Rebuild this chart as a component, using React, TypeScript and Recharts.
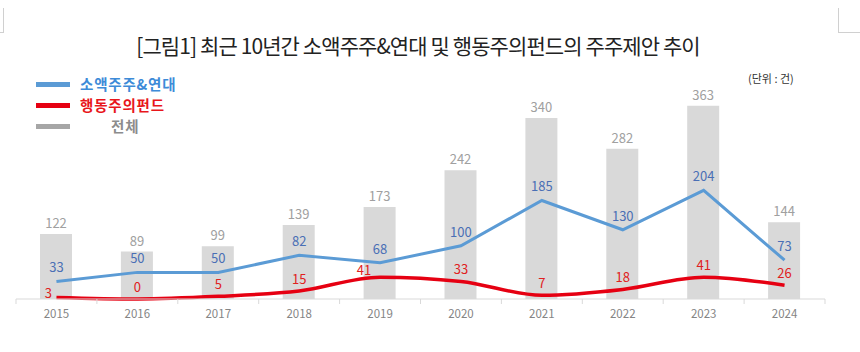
import { ComposedChart, Bar, Line, XAxis, YAxis, LabelList } from 'recharts';

const YEARS = ['2015', '2016', '2017', '2018', '2019', '2020', '2021', '2022', '2023', '2024'];
const TOTAL = [122, 89, 99, 139, 173, 242, 340, 282, 363, 144];
const RETAIL = [33, 50, 50, 82, 68, 100, 185, 130, 204, 73];
const ACTIVIST = [3, 0, 5, 15, 41, 33, 7, 18, 41, 26];

const CHART_W = 860;
const CHART_H = 352;
const MARGIN = { top: 86, right: 35, left: 16, bottom: 23 };
const BAND = (CHART_W - MARGIN.left - MARGIN.right) / YEARS.length;

const BLUE = '#5b9bd5';
const BLUE_TEXT = '#4a6fb5';
const RED = '#e60012';
const GRAY_BAR = '#d9d9d9';
const KR = '"Noto Sans CJK KR", "Noto Sans", sans-serif';

const data = YEARS.map((year, i) => ({
    year,
    total: TOTAL[i],
    retail: RETAIL[i],
    activist: ACTIVIST[i],
}));

function YearTick(props: any) {
    const { x, y, payload, index } = props;
    return (
        <g>
            <line x1={x - BAND / 2} x2={x - BAND / 2} y1={y - 5} y2={y} stroke="#d9d9d9" />
            {index === YEARS.length - 1 && (
                <line x1={x + BAND / 2} x2={x + BAND / 2} y1={y - 5} y2={y} stroke="#d9d9d9" />
            )}
            <text x={x} y={y + 14} textAnchor="middle" fill="#858585" fontSize={11.5} fontFamily={KR}>
                {payload.value}
            </text>
        </g>
    );
}

// red labels sit above the point, except a couple that are pushed left
function RedLabel(props: any) {
    const { x, y, value, index } = props;
    let dx = 0;
    let dy = -7;
    if (index === 0) { dx = -8; dy = 1; }
    if (index === 4) { dx = -16; dy = -2; }
    return (
        <text x={x + dx} y={y + dy} textAnchor="middle" fill="#e02020" fontSize={13} fontFamily={KR}>
            {value}
        </text>
    );
}

function LegendRow({ color, text, textColor, top, indent = 0 }: any) {
    return (
        <div style={{ position: 'absolute', left: 36, top, height: 18, display: 'flex', alignItems: 'center' }}>
            <span style={{ width: 34, height: 5, background: color, display: 'inline-block' }} />
            <span style={{
                marginLeft: 10 + indent,
                color: textColor,
                fontWeight: 700,
                fontSize: 14.5,
                lineHeight: '18px',
                fontFamily: KR,
                letterSpacing: '0.8px',
            }}>
                {text}
            </span>
        </div>
    );
}

export default function App() {
    return (
        <div style={{
            position: 'absolute',
            left: 0,
            top: 0,
            width: CHART_W,
            height: CHART_H,
            background: '#fff',
            overflow: 'hidden',
        }}>
            {/* crop marks */}
            <div style={{ position: 'absolute', left: 3, top: 8, width: 1, height: 24, background: '#d0d0d0' }} />
            <div style={{ position: 'absolute', left: 0, top: 32, width: 4, height: 1, background: '#d0d0d0' }} />
            <div style={{ position: 'absolute', left: 838, top: 8, width: 1, height: 24, background: '#d0d0d0' }} />
            <div style={{ position: 'absolute', left: 838, top: 32, width: 22, height: 1, background: '#d0d0d0' }} />

            <div style={{
                position: 'absolute',
                left: -12,
                top: 31,
                width: CHART_W,
                textAlign: 'center',
                fontFamily: KR,
                fontSize: 21,
                lineHeight: '28px',
                color: '#222',
                letterSpacing: '-0.9px',
            }}>
                [그림1] 최근 10년간 소액주주&amp;연대 및 행동주의펀드의 주주제안 추이
            </div>

            <div style={{
                position: 'absolute',
                left: 748,
                top: 70,
                fontFamily: KR,
                fontSize: 11,
                color: '#333',
            }}>
                (단위 : 건)
            </div>

            <LegendRow color={BLUE} text="소액주주&연대" textColor="#3d8bd8" top={75} />
            <LegendRow color={RED} text="행동주의펀드" textColor="#e8161b" top={96} />
            <LegendRow color="#a6a6a6" text="전체" textColor="#8c8c8c" top={117} indent={31} />

            <div style={{ position: 'absolute', left: 0, top: 0 }}>
                <ComposedChart width={CHART_W} height={CHART_H} data={data} margin={MARGIN}>
                    <XAxis
                        dataKey="year"
                        height={30}
                        axisLine={{ stroke: '#d9d9d9' }}
                        tickLine={false}
                        tickSize={5}
                        tickMargin={0}
                        interval={0}
                        tick={<YearTick />}
                    />
                    <YAxis hide domain={[0, 400]} />
                    <Bar dataKey="total" fill={GRAY_BAR} barSize={32} isAnimationActive={false}>
                        <LabelList dataKey="total" position="top" offset={6} fill="#a0a0a0" fontSize={13} fontFamily={KR} />
                    </Bar>
                    <Line
                        type="linear"
                        dataKey="retail"
                        stroke={BLUE}
                        strokeWidth={3}
                        dot={false}
                        isAnimationActive={false}
                    >
                        <LabelList dataKey="retail" position="top" offset={9} fill={BLUE_TEXT} fontSize={13} fontFamily={KR} />
                    </Line>
                    <Line
                        type="monotone"
                        dataKey="activist"
                        stroke={RED}
                        strokeWidth={3.5}
                        dot={false}
                        isAnimationActive={false}
                    >
                        <LabelList dataKey="activist" content={<RedLabel />} />
                    </Line>
                </ComposedChart>
            </div>
        </div>
    );
}
